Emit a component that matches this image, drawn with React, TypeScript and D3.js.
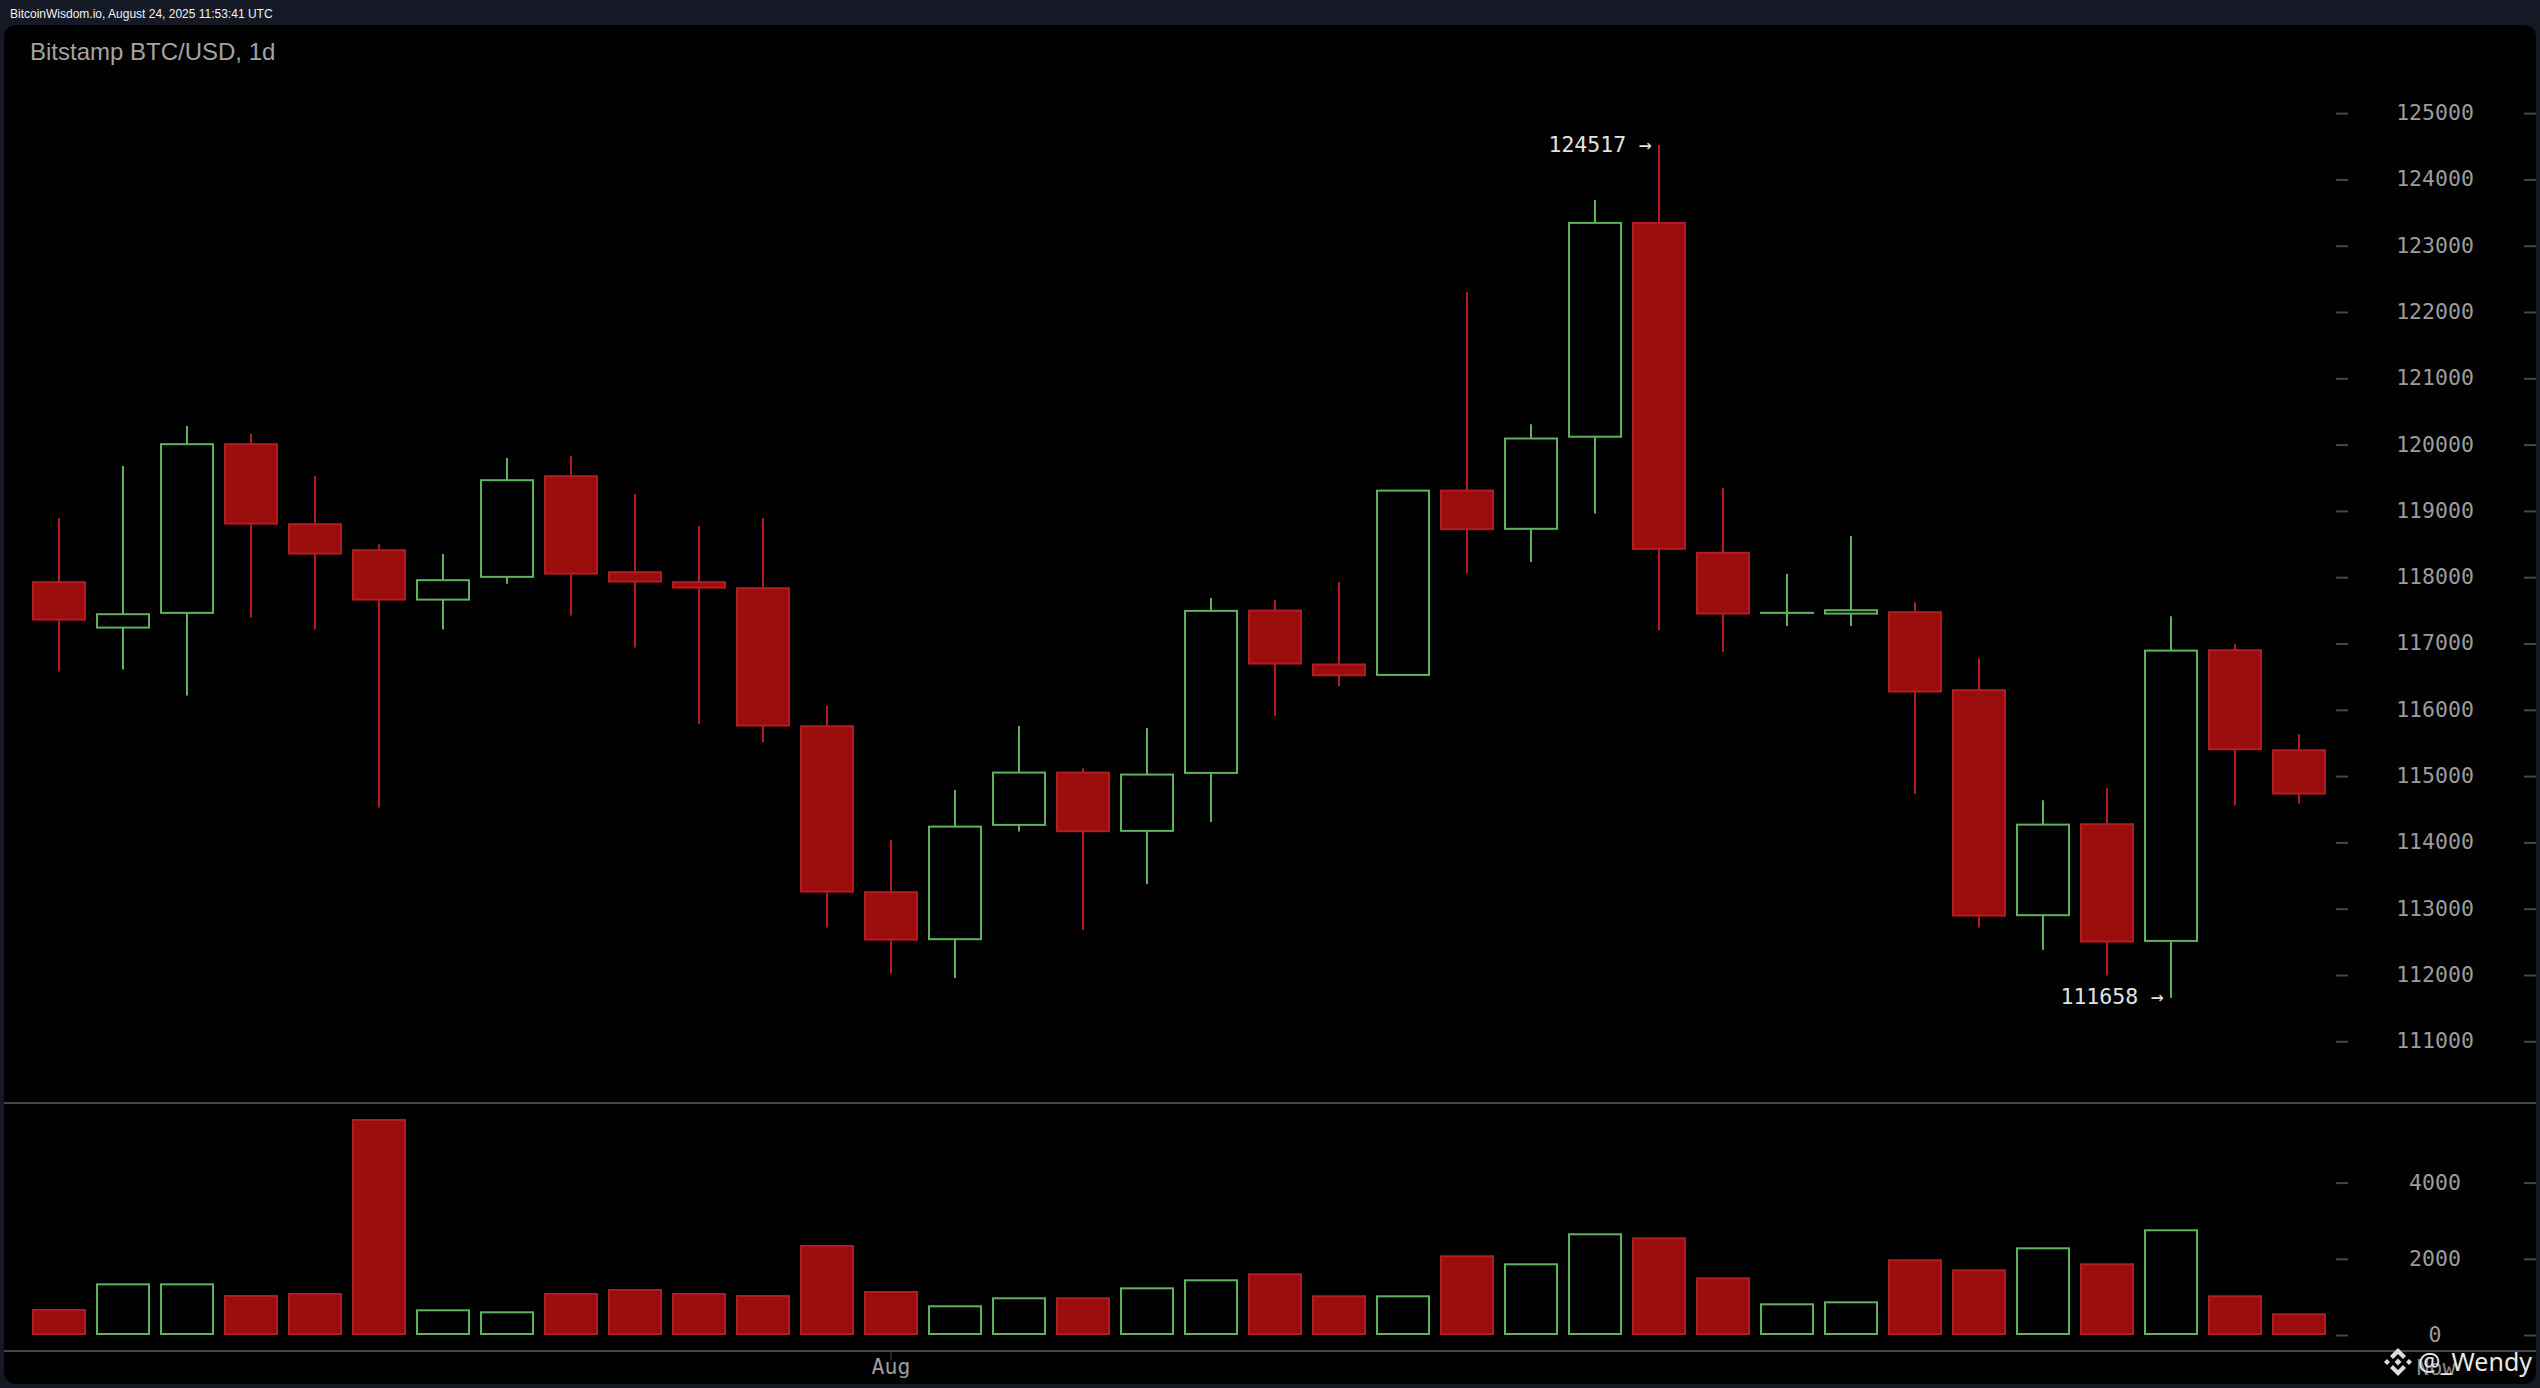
import { useEffect, useRef } from "react";
import * as d3 from "d3";

// daily candles
const days = [
    "Jul 19", "Jul 20", "Jul 21", "Jul 22", "Jul 23", "Jul 24", "Jul 25", "Jul 26", "Jul 27", "Jul 28", "Jul 29", "Jul 30",
    "Jul 31", "Aug 1", "Aug 2", "Aug 3", "Aug 4", "Aug 5", "Aug 6", "Aug 7", "Aug 8", "Aug 9", "Aug 10", "Aug 11",
    "Aug 12", "Aug 13", "Aug 14", "Aug 15", "Aug 16", "Aug 17", "Aug 18", "Aug 19", "Aug 20", "Aug 21", "Aug 22", "Aug 23",
];
const opens = [
    117925, 117240, 117462, 120006, 118799, 118407, 117662, 118005, 119523, 118075, 117925, 117834,
    115752, 113249, 112540, 114264, 115053, 114174, 115048, 117496, 116683, 116526, 119306, 118730,
    120119, 123344, 118368, 117463, 117451, 117472, 116296, 112902, 114274, 112514, 116899, 115390,
];
const highs = [
    118894, 119679, 120282, 120161, 119528, 118498, 118351, 119799, 119830, 119256, 118774, 118894,
    116059, 114038, 114792, 115757, 115119, 115727, 117688, 117652, 117928, 119306, 122303, 120308,
    123691, 124517, 119348, 118051, 118623, 117623, 116778, 114636, 114817, 117412, 116989, 115632,
];
const lows = [
    116576, 116606, 116214, 117391, 117210, 114525, 117210, 117903, 117421, 116938, 115787, 115516,
    112715, 112017, 111956, 114163, 112680, 113374, 114309, 115912, 116360, 116526, 118056, 118229,
    118961, 117205, 116872, 117265, 117265, 114731, 112715, 112379, 111991, 111658, 114555, 114585,
];
const closes = [
    117360, 117442, 120006, 118808, 118356, 117662, 117955, 119463, 118054, 117934, 117843, 115762,
    113258, 112534, 114238, 115053, 114169, 115023, 117492, 116698, 116520, 119306, 118724, 120092,
    123344, 118428, 117452, 117463, 117502, 116275, 112896, 114268, 112504, 116893, 115406, 114736,
];
const volumes = [
    656, 1330, 1330, 1024, 1076, 5643, 648, 596, 1076, 1181, 1076, 1024,
    2336, 1128, 753, 963, 963, 1225, 1436, 1593, 1016, 1016, 2066, 1856,
    2643, 2538, 1488, 806, 858, 1960, 1698, 2275, 1856, 2748, 1016, 543,
];
const priceTicks = [
    111000, 112000, 113000, 114000, 115000, 116000, 117000, 118000,
    119000, 120000, 121000, 122000, 123000, 124000, 125000,
];
const volumeTicks = [0, 2000, 4000];
const peakLabels = [
    { day: "Aug 13", value: 124517 },
    { day: "Aug 21", value: 111658 },
];

const RED_FILL = "#990d0d";
const RED_LINE = "#b51c22";
const GREEN_LINE = "#60b25f";
const MONO = "'DejaVu Sans Mono', monospace";
const SANS = "'Liberation Sans', Arial, sans-serif";

export default function App() {
    const svgRef = useRef(null);

    useEffect(() => {
        const width = 2540;
        const height = 1388;
        const panel = { left: 4, top: 25, right: 2536, bottom: 1384 };

        const svg = d3.select(svgRef.current)
            .attr("width", width)
            .attr("height", height)
            .style("position", "fixed")
            .style("left", 0)
            .style("top", 0)
            .style("display", "block");

        svg.selectAll("*").remove();

        // Frame
        svg.append("rect").attr("width", width).attr("height", height).attr("fill", "#141925");
        svg.append("rect")
            .attr("x", panel.left)
            .attr("y", panel.top)
            .attr("width", panel.right - panel.left)
            .attr("height", panel.bottom - panel.top)
            .attr("rx", 12)
            .attr("fill", "#000");

        svg.append("text")
            .attr("x", 10)
            .attr("y", 18)
            .attr("fill", "#f2f2f2")
            .style("font", `12px ${SANS}`)
            .text("BitcoinWisdom.io, August 24, 2025 11:53:41 UTC");
        svg.append("text")
            .attr("x", 30)
            .attr("y", 60)
            .attr("fill", "#a3a3a3")
            .style("font", `24px ${SANS}`)
            .text("Bitstamp BTC/USD, 1d");

        // Scales
        const x = d3.scaleBand()
            .domain(days)
            .range([27, 2331])
            .paddingInner(0.1875)
            .paddingOuter(0.09375);
        const centerX = d => x(d) + x.bandwidth() / 2;

        const y = d3.scaleLinear().domain([111000, 125000]).range([1041.3, 113.1]);
        const volY = d3.scaleLinear().domain([0, 4000]).range([1335, 1182.6]);

        // Panel separators
        svg.append("g")
            .selectAll("line")
            .data([1103, 1351])
            .join("line")
            .attr("x1", panel.left)
            .attr("x2", panel.right)
            .attr("y1", d => d)
            .attr("y2", d => d)
            .attr("stroke", "#474747")
            .attr("stroke-width", 2);

        // Right hand axes: tick pair with the label centred between them
        const drawAxis = (scale, ticks) => {
            [2336, 2524].forEach(left => {
                const g = svg.append("g")
                    .attr("transform", `translate(${left},0)`)
                    .call(d3.axisRight(scale).tickValues(ticks).tickSize(12).tickFormat(() => ""));
                g.select(".domain").remove();
                g.selectAll("line").attr("stroke", "#474747").attr("stroke-width", 2);
            });
            const labels = svg.append("g")
                .attr("transform", "translate(2435,0)")
                .call(d3.axisRight(scale).tickValues(ticks).tickSize(0).tickFormat(d3.format("d")));
            labels.select(".domain").remove();
            labels.selectAll("text")
                .attr("x", 0)
                .attr("dy", "0.3em")
                .attr("text-anchor", "middle")
                .attr("fill", "#9c9c9c")
                .style("font", `21.5px ${MONO}`);
        };
        drawAxis(y, priceTicks);
        drawAxis(volY, volumeTicks);

        // Candles
        const candles = days.map((day, i) => ({
            day,
            open: opens[i],
            high: highs[i],
            low: lows[i],
            close: closes[i],
            volume: volumes[i],
            up: closes[i] >= opens[i],
        }));

        const candleG = svg.append("g");
        candleG.selectAll("line")
            .data(candles)
            .join("line")
            .attr("x1", d => centerX(d.day))
            .attr("x2", d => centerX(d.day))
            .attr("y1", d => y(d.high))
            .attr("y2", d => y(d.low))
            .attr("stroke", d => (d.up ? GREEN_LINE : RED_LINE))
            .attr("stroke-width", 2);
        // a doji has no height, keep a sliver so the stroke still shows
        candleG.selectAll("rect")
            .data(candles)
            .join("rect")
            .attr("x", d => x(d.day))
            .attr("y", d => y(Math.max(d.open, d.close)))
            .attr("width", x.bandwidth())
            .attr("height", d => Math.max(Math.abs(y(d.open) - y(d.close)), 0.1))
            .attr("fill", d => (d.up ? "#000" : RED_FILL))
            .attr("stroke", d => (d.up ? GREEN_LINE : RED_LINE))
            .attr("stroke-width", 2);

        // Volume bars
        svg.append("g")
            .selectAll("rect")
            .data(candles)
            .join("rect")
            .attr("x", d => x(d.day))
            .attr("y", d => volY(d.volume))
            .attr("width", x.bandwidth())
            .attr("height", d => volY(0) - volY(d.volume) - 1)
            .attr("fill", d => (d.up ? "#000" : RED_FILL))
            .attr("stroke", d => (d.up ? GREEN_LINE : RED_LINE))
            .attr("stroke-width", 2);

        // High / low callouts
        svg.append("g")
            .selectAll("text")
            .data(peakLabels)
            .join("text")
            .attr("x", d => centerX(d.day) - 7)
            .attr("y", d => y(d.value))
            .attr("dy", "0.3em")
            .attr("text-anchor", "end")
            .attr("fill", "#e2e2e2")
            .style("font", `21.5px ${MONO}`)
            .text(d => `${d.value} →`);

        // Time axis, only the month start gets a label
        const monthStart = "Aug 1";
        svg.append("line")
            .attr("x1", centerX(monthStart))
            .attr("x2", centerX(monthStart))
            .attr("y1", 1352)
            .attr("y2", 1360)
            .attr("stroke", "#474747")
            .attr("stroke-width", 1);
        svg.append("text")
            .attr("x", centerX(monthStart))
            .attr("y", 1374)
            .attr("text-anchor", "middle")
            .attr("fill", "#9c9c9c")
            .style("font", `21.5px ${MONO}`)
            .text("Aug");
        svg.append("text")
            .attr("x", 2436)
            .attr("y", 1375)
            .attr("text-anchor", "middle")
            .attr("fill", "#8a8a8a")
            .style("font", `21.5px ${MONO}`)
            .text("Now");

        // Watermark
        const logo = svg.append("g")
            .attr("transform", "translate(2398,1362)")
            .attr("fill", "#dcdcdc");
        [
            "M0,-14L8,-6L5,-3L0,-8L-5,-3L-8,-6Z",
            "M0,14L8,6L5,3L0,8L-5,3L-8,6Z",
            "M0,-3.5L3.5,0L0,3.5L-3.5,0Z",
            "M-11,-3L-8,0L-11,3L-14,0Z",
            "M11,-3L14,0L11,3L8,0Z",
        ].forEach(d => logo.append("path").attr("d", d));
        svg.append("text")
            .attr("x", 2418)
            .attr("y", 1371)
            .attr("fill", "#e8e8e8")
            .style("font", "25px 'Noto Sans', sans-serif")
            .text("@_Wendy");
    }, []);

    return <svg ref={svgRef} />;
}
